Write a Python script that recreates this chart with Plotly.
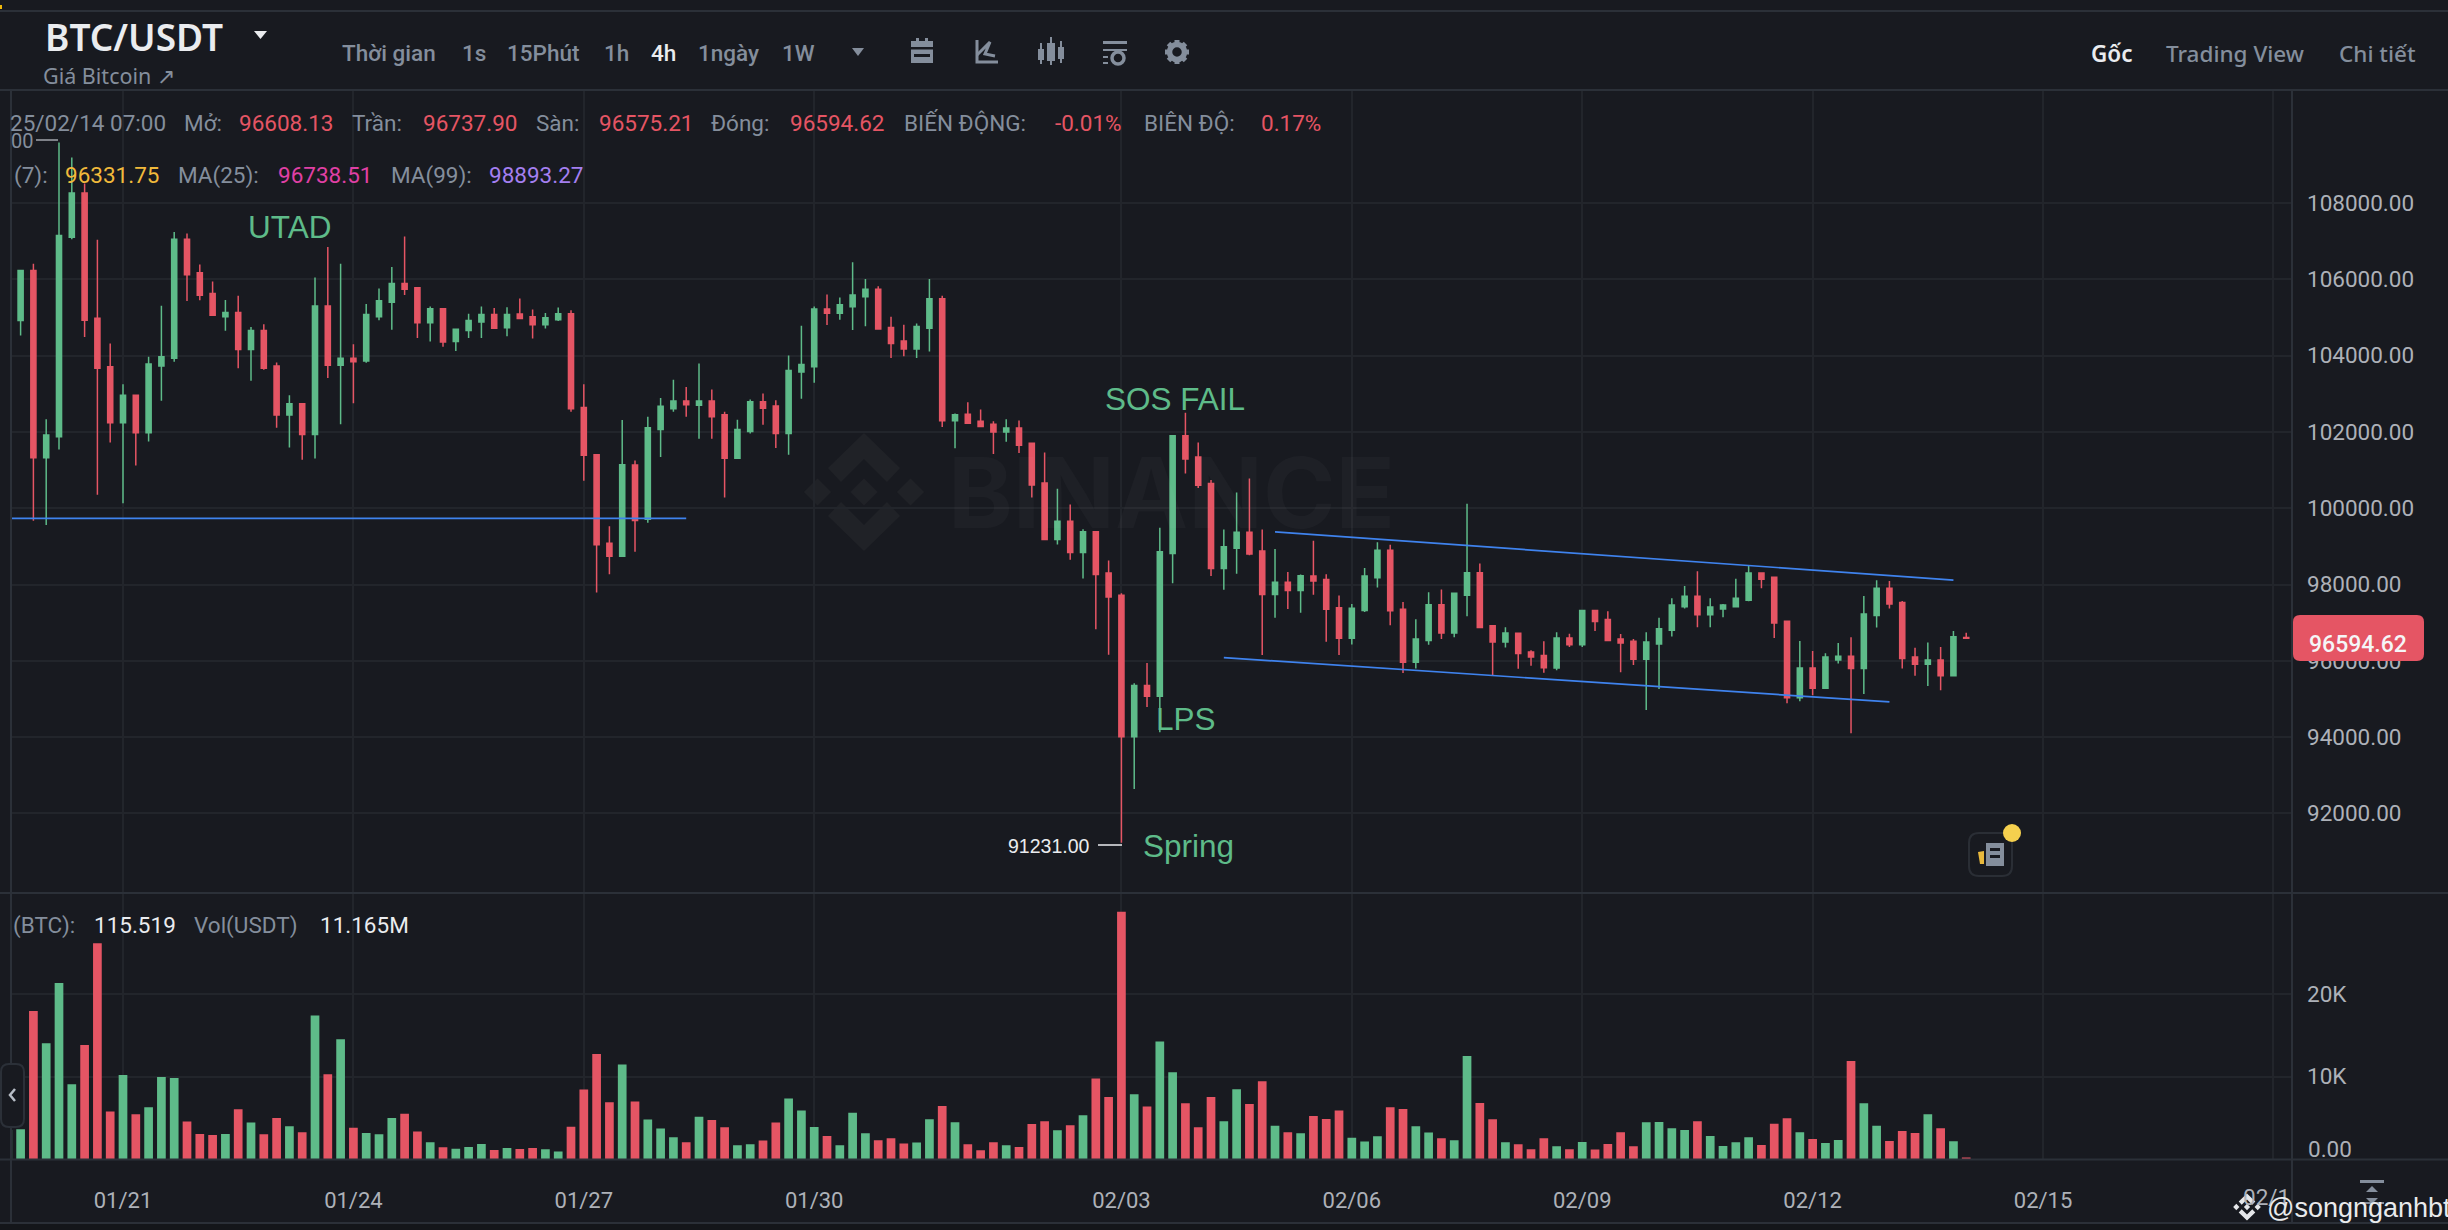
import plotly.graph_objects as go

W, H = 2448, 1230
BG = "#181A20"
GREEN = "#5EBB89"
RED = "#E55564"
GRID = "#22252B"
RULE = "#2B3038"
MUTED = "#848E9C"
AXIS_TEXT = "#ADB1B8"
TEXT_GREEN = "#5EBB89"
FONT = "Roboto"

# 4h BTC/USDT candles, oldest first; the candle index is the x coordinate
candle_index = list(range(154))
open_ = [
    104340, 104920, 106230, 101320, 101870, 107100, 108260, 104980, 103710, 102240, 102960,
    101980, 103730, 103930, 107050, 106170, 105630, 105020, 105130, 104160, 104660, 103730,
    102440, 102740, 101930, 105300, 103750, 103930, 103860, 105020, 105400, 105890, 105780,
    104860, 105230, 104370, 104660, 104880, 105080, 104730, 105090, 105020, 104810, 104940,
    105100, 102640, 101400, 99080, 98740, 101130, 99710, 102060, 102610, 102810, 102700,
    102810, 102450, 101310, 102010, 102790, 102680, 101960, 103570, 103710, 105220, 105110,
    105280, 105540, 105740, 104740, 104380, 104170, 104720, 105490, 102290, 102460, 102280,
    102200, 102000, 102100, 101700, 100660, 99180, 99660, 98840, 99380, 98300, 97720,
    94010, 95350, 95070, 98810, 101900, 101340, 100650, 98420, 98950, 99370, 98880,
    97740, 98060, 97840, 98220, 98130, 97390, 96590, 97320, 98180, 98900, 97350,
    95960, 96530, 97470, 96730, 97720, 98310, 96920, 96490, 96720, 96230, 96140,
    95810, 96600, 96420, 97320, 97080, 96570, 96510, 96040, 96440, 96800, 97420,
    97690, 97210, 97360, 97420, 97590, 98300, 98190, 97040, 95030, 95810, 95280,
    96020, 96120, 95800, 97190, 97900, 97530, 96100, 95910, 96020, 95610, 96608.13,
]
high = [
    105100, 106230, 106410, 102330, 109588, 109190, 108510, 107040, 104320, 103250, 102980,
    103970, 105310, 107240, 107200, 106390, 105940, 105460, 105570, 104750, 104820, 103820,
    102960, 102750, 106050, 106850, 106410, 104300, 105350, 105760, 106320, 107120, 105790,
    105290, 105240, 104700, 105100, 105290, 105250, 105270, 105500, 105210, 105120, 105260,
    105190, 103250, 101420, 99530, 102310, 101250, 102400, 102890, 103370, 103180, 103790,
    103110, 102530, 102320, 102850, 103010, 102830, 104000, 104780, 105290, 105600, 105520,
    106450, 106010, 105820, 105020, 104810, 104840, 106010, 105570, 102480, 102780, 102590,
    102280, 102330, 102300, 101710, 101460, 100510, 100100, 99450, 99390, 98630, 97770,
    95410, 95940, 99490, 101910, 102500, 101720, 100740, 99440, 100410, 100780, 99440,
    98930, 98330, 98260, 99150, 98270, 97710, 97490, 98430, 99110, 99040, 97540,
    97090, 97800, 97870, 97780, 100120, 98550, 96940, 96880, 96730, 96280, 96510,
    96750, 96710, 97330, 97330, 97300, 96700, 96570, 96750, 97130, 97640, 97960,
    98350, 97640, 97490, 98150, 98490, 98320, 98200, 97050, 96520, 96260, 96200,
    96470, 96620, 97700, 98110, 98090, 97570, 96340, 96480, 96360, 96780, 96737.90,
]
low = [
    104200, 104530, 99670, 99560, 101540, 107050, 104490, 100350, 101720, 100130, 101120,
    101750, 102820, 103840, 105430, 105450, 105040, 104650, 103670, 103340, 103630, 102110,
    101590, 101270, 101300, 103410, 102200, 102750, 103810, 104930, 104680, 105590, 104460,
    104370, 104230, 104120, 104460, 104460, 104700, 104510, 104950, 104450, 104710, 104910,
    102530, 100720, 97790, 98270, 98720, 98860, 99620, 101340, 102530, 102400, 101820,
    101820, 100280, 101300, 101960, 102190, 101580, 101400, 102870, 103290, 104800, 104940,
    104670, 104770, 104690, 103940, 103980, 103940, 104110, 102130, 101570, 102210, 102120,
    101420, 101740, 101450, 100280, 99160, 99050, 98650, 98160, 96830, 96160, 91231,
    92640, 94790, 94130, 98030, 100910, 100530, 98220, 97860, 98280, 98770, 96150,
    97130, 97360, 97260, 97730, 96500, 96150, 96430, 97280, 97920, 96930, 95680,
    95800, 96420, 96570, 96620, 97170, 96860, 95620, 96350, 95790, 95870, 95690,
    95750, 96360, 96360, 96780, 96510, 95700, 95890, 94710, 95260, 96640, 97370,
    96880, 96880, 97140, 97410, 97560, 97900, 96600, 94890, 94940, 95100, 95270,
    95930, 94100, 95130, 96870, 97370, 95800, 95610, 95340, 95230, 95600, 96575.21,
]
close = [
    104950, 106230, 101320, 101920, 107150, 108260, 104930, 103670, 102240, 102960, 101980,
    103780, 103970, 107050, 106120, 105580, 105060, 105130, 104160, 104660, 103670, 102440,
    102740, 101930, 105300, 103750, 103930, 103840, 105080, 105440, 105890, 105740, 104860,
    105230, 104360, 104690, 104920, 105080, 104720, 105080, 104970, 104810, 104990, 105100,
    102610, 101390, 99040, 98740, 101140, 99680, 102110, 102670, 102810, 102710, 102810,
    102400, 101310, 102060, 102790, 102620, 101960, 103610, 103770, 105220, 105110, 105330,
    105590, 105740, 104700, 104320, 104170, 104760, 105490, 102290, 102450, 102230, 102140,
    102000, 102100, 101650, 100610, 99180, 99660, 98840, 99380, 98260, 97670, 94010,
    95350, 95070, 98860, 101900, 101290, 100600, 98420, 98990, 99370, 98800, 97740,
    98060, 97840, 98230, 98090, 97350, 96590, 97380, 98220, 98900, 97310, 95960,
    96570, 97470, 96730, 97770, 98310, 96870, 96490, 96730, 96190, 96100, 95820,
    96600, 96420, 97320, 97030, 96530, 96470, 96040, 96490, 96840, 97460, 97690,
    97210, 97410, 97460, 97640, 98300, 98140, 96990, 95030, 95810, 95280, 96100,
    96120, 95800, 97230, 97900, 97490, 96060, 95910, 96020, 95610, 96630, 96594.62,
]
volume = [
    3550, 3630, 17940, 14030, 21330, 9070, 13830, 26130, 5770, 10200, 5440,
    6290, 9960, 9840, 4560, 3060, 2940, 3060, 6050, 4440, 3020, 5000,
    3990, 3270, 17380, 10280, 14520, 3830, 3190, 3020, 5000, 5520, 3350,
    2060, 1450, 1290, 1490, 1850, 1130, 1370, 1250, 1370, 1210, 930,
    3950, 8430, 12740, 6890, 11450, 6980, 4800, 3710, 2660, 2060, 5160,
    4760, 3870, 1690, 1810, 2260, 4440, 7340, 5890, 3910, 2820, 1690,
    5640, 3140, 2300, 2540, 1900, 2020, 4840, 6450, 4480, 1810, 1090,
    2060, 1690, 1490, 4270, 4600, 3510, 4110, 5320, 9760, 7540, 29920,
    7860, 6370, 14230, 10520, 6770, 3870, 7540, 4600, 8470, 6690, 9430,
    4070, 3270, 3140, 5240, 4880, 5890, 2620, 2140, 2780, 6290, 6090,
    3990, 3230, 2540, 2300, 12500, 6810, 4840, 2060, 1810, 1210, 2540,
    1570, 1210, 2100, 1170, 1850, 3270, 1570, 4480, 4520, 3750, 3550,
    4600, 2820, 1610, 2060, 2660, 1730, 4310, 4960, 3270, 2460, 1980,
    2340, 11890, 6770, 4070, 2220, 3430, 3190, 5440, 3750, 2180, 115.519,
]

date_ticks = [9, 27, 45, 63, 87, 105, 123, 141, 159, 177]
date_labels = ["01/21", "01/24", "01/27", "01/30", "02/03", "02/06", "02/09", "02/12", "02/15", ""]
price_ticks = [92000, 94000, 96000, 98000, 100000, 102000, 104000, 106000, 108000]
price_labels = ["92000.00", "94000.00", "96000.00", "98000.00", "100000.00",
                "102000.00", "104000.00", "106000.00", "108000.00"]
volume_ticks = [10000, 20000]
volume_labels = ["10K", "20K"]

# Support line and the falling channel drawn over the candles
support_x = [0.289, 53]
support_y = [99736, 99736]
channel_top_x = [99, 152]
channel_top_y = [99382, 98115]
channel_low_x = [95, 147]
channel_low_y = [96083, 94921]


def px(x):
    return x / W


def py(y):
    return 1 - y / H


shapes = []
annotations = []


def rect(x0, y0, x1, y1, fill, layer="above"):
    shapes.append(dict(type="rect", xref="paper", yref="paper", x0=px(x0), x1=px(x1),
                       y0=py(y0), y1=py(y1), fillcolor=fill, line_width=0, layer=layer))


def line(x0, y0, x1, y1, color=RULE, width=2, layer="above"):
    shapes.append(dict(type="line", xref="paper", yref="paper", x0=px(x0), x1=px(x1),
                       y0=py(y0), y1=py(y1), line=dict(color=color, width=width), layer=layer))


def poly(points, fill=None, stroke=None, width=0, layer="above", closed=True):
    d = "M" + " L".join(f"{px(x):.6f},{py(y):.6f}" for x, y in points) + (" Z" if closed else "")
    shapes.append(dict(type="path", xref="paper", yref="paper", path=d,
                       fillcolor=fill or "rgba(0,0,0,0)",
                       line=dict(color=stroke or "rgba(0,0,0,0)", width=width), layer=layer))


def round_rect(x0, y0, x1, y1, r, fill=None, stroke=None, width=0):
    d = (f"M{px(x0 + r):.6f},{py(y0):.6f} L{px(x1 - r):.6f},{py(y0):.6f} "
         f"Q{px(x1):.6f},{py(y0):.6f} {px(x1):.6f},{py(y0 + r):.6f} "
         f"L{px(x1):.6f},{py(y1 - r):.6f} Q{px(x1):.6f},{py(y1):.6f} {px(x1 - r):.6f},{py(y1):.6f} "
         f"L{px(x0 + r):.6f},{py(y1):.6f} Q{px(x0):.6f},{py(y1):.6f} {px(x0):.6f},{py(y1 - r):.6f} "
         f"L{px(x0):.6f},{py(y0 + r):.6f} Q{px(x0):.6f},{py(y0):.6f} {px(x0 + r):.6f},{py(y0):.6f} Z")
    shapes.append(dict(type="path", xref="paper", yref="paper", path=d,
                       fillcolor=fill or "rgba(0,0,0,0)",
                       line=dict(color=stroke or "rgba(0,0,0,0)", width=width), layer="above"))


def circle(cx, cy, r, fill=None, stroke=None, width=0):
    shapes.append(dict(type="circle", xref="paper", yref="paper", x0=px(cx - r), x1=px(cx + r),
                       y0=py(cy + r), y1=py(cy - r), fillcolor=fill or "rgba(0,0,0,0)",
                       line=dict(color=stroke or "rgba(0,0,0,0)", width=width), layer="above"))


def text(x, y, s, color=MUTED, size=22.5, anchor="left", family=FONT, weight=None):
    font = dict(family=family, size=size, color=color)
    if weight:
        font["weight"] = weight
    annotations.append(dict(xref="paper", yref="paper", x=px(x), y=py(y), text=s, showarrow=False,
                            xanchor=anchor, yanchor="middle", font=font, borderpad=0, borderwidth=0))


def binance_logo(cx, cy, s, color, layer):
    d = 13.6 * s
    for dx in (-46.5 * s, 0, 46.5 * s):
        poly([(cx + dx, cy - d), (cx + dx + d, cy), (cx + dx, cy + d), (cx + dx - d, cy)], fill=color, layer=layer)
    for sign in (-1, 1):
        poly([(cx, cy + sign * 59 * s), (cx + 36 * s, cy + sign * 24 * s), (cx + 23 * s, cy + sign * 10 * s),
              (cx, cy + sign * 33 * s), (cx - 23 * s, cy + sign * 10 * s), (cx - 36 * s, cy + sign * 24 * s)],
             fill=color, layer=layer)


# Faint exchange mark behind the candles
binance_logo(864, 492, 1.0, "#202227", "below")
text(948, 492, "BINANCE", color="rgba(255,255,255,0.028)", size=98, family="Inter", weight=700)

# Panel rules
line(0, 11, W, 11)
line(0, 90, W, 90)
line(0, 893, W, 893)
line(0, 1159.5, W, 1159.5)
line(0, 1223, W, 1223)
line(2292, 90, 2292, 1223)
line(11, 90, 11, 1223)
rect(0, 1224, W, H, "#14161A")
rect(0, 5, 2, 9, "#F0B90B")

# Header
text(45, 36, "BTC/USDT", color="#EAECEF", size=37, family="Noto Sans", weight=600)
poly([(254, 31), (267, 31), (260.5, 39)], fill="#EAECEF")
text(43, 75, "Giá Bitcoin ↗", color=MUTED, size=21.5, family="Noto Sans")
toolbar = [(342, "Thời gian", MUTED), (462, "1s", MUTED), (507, "15Phút", MUTED), (604, "1h", MUTED),
           (651, "4h", "#EAECEF"), (698, "1ngày", MUTED), (782, "1W", MUTED)]
for x, s, c in toolbar:
    text(x, 53, s, color=c, size=22.5, weight=500)
poly([(852, 48), (864, 48), (858, 56)], fill=MUTED)

# Toolbar icons
rect(911, 41, 933, 63, MUTED)
rect(911, 47, 933, 49.5, BG)
rect(914, 54, 930, 57, BG)
rect(916, 38, 919, 43, MUTED)
rect(925, 38, 928, 43, MUTED)
poly([(977, 40), (977, 62), (998, 62)], stroke=MUTED, width=3, closed=False)
poly([(977, 55), (990, 42), (985, 54), (995, 56)], stroke=MUTED, width=3, closed=False)
for cx, top, bot, w_ in [(1041, 49, 60, 6), (1051, 43, 61, 8), (1061, 47, 59, 6)]:
    rect(cx - w_ / 2, top, cx + w_ / 2, bot, MUTED)
    line(cx, top - 6, cx, bot + 4, MUTED, 2)
rect(1103, 41, 1127, 44, MUTED)
rect(1103, 49, 1127, 51, MUTED)
rect(1103, 56, 1108, 58, MUTED)
rect(1103, 62, 1108, 64, MUTED)
circle(1118, 58, 6, stroke=MUTED, width=3.5)
circle(1177, 52, 7.5, stroke=MUTED, width=5.5)
for ax, ay, bx, by in [(-12, 0, 12, 0), (0, -12, 0, 12), (-8.5, -8.5, 8.5, 8.5), (-8.5, 8.5, 8.5, -8.5)]:
    line(1177 + ax, 52 + ay, 1177 + ax * 0.7, 52 + ay * 0.7, MUTED, 5)
    line(1177 + bx, 52 + by, 1177 + bx * 0.7, 52 + by * 0.7, MUTED, 5)

text(2091, 53, "Gốc", color="#EAECEF", size=22.5, family="Noto Sans", weight=600)
text(2166, 53, "Trading View", color=MUTED, size=22.5, family="Noto Sans", weight=500)
text(2339, 53, "Chi tiết", color=MUTED, size=22.5, family="Noto Sans", weight=500)

# Latest candle read-out
row1 = [(10, "25/02/14 07:00", MUTED), (184, "Mở:", MUTED), (239, "96608.13", RED), (352, "Trần:", MUTED),
        (423, "96737.90", RED), (536, "Sàn:", MUTED), (599, "96575.21", RED), (711, "Đóng:", MUTED),
        (790, "96594.62", RED), (904, "BIẾN ĐỘNG:", MUTED), (1055, "-0.01%", RED),
        (1144, "BIÊN ĐỘ:", MUTED), (1261, "0.17%", RED)]
for x, s, c in row1:
    text(x, 123, s, color=c)
row2 = [(14, "(7):", MUTED), (65, "96331.75", "#F0B93B"), (178, "MA(25):", MUTED), (278, "96738.51", "#E040A5"),
        (391, "MA(99):", MUTED), (489, "98893.27", "#A47FF0")]
for x, s, c in row2:
    text(x, 175, s, color=c)
text(11, 141, "00", color=MUTED, size=20)
line(36, 140, 58, 140, "#A0A4AB", 1.5)

# Wyckoff phase labels
for cx, cy, s in [(289, 227, "UTAD"), (1175, 399, "SOS FAIL"), (1186, 719, "LPS"), (1188, 846, "Spring")]:
    text(cx, cy, s, color=TEXT_GREEN, size=31.5, anchor="center", family="Liberation Sans")

# Session low marker
text(1008, 845.5, "91231.00", color="#EAECEF", size=19.5, family="Liberation Sans")
line(1098, 845, 1122, 845, "#EAECEF", 1.5)

# Volume read-out
text(13, 925, "(BTC):", color=MUTED)
text(94, 925, "115.519", color="#EAECEF")
text(194, 925, "Vol(USDT)", color=MUTED)
text(320, 925, "11.165M", color="#EAECEF")

# Last price badge
round_rect(2293, 615, 2424, 661, 7, fill=RED)
text(2358, 644, "96594.62", color="#F5F6F7", size=23, anchor="center", weight=500)
text(2308, 1149, "0.00", color=AXIS_TEXT)

# Clipped date label and side controls
text(2243, 1197, "02/1", color=AXIS_TEXT)
round_rect(1, 1064, 24, 1127, 8, fill=BG, stroke=RULE, width=2)
poly([(15, 1089), (10, 1095), (15, 1101)], stroke="#B7BDC6", width=2.5, closed=False)

# News button
round_rect(1969, 833, 2012, 876, 10, fill=BG, stroke="#2A2E35", width=2)
rect(1986, 843, 2004, 866, MUTED)
rect(1990, 848, 2000, 851, BG)
rect(1990, 855, 2000, 858, BG)
poly([(1978, 852), (1984, 851), (1984, 864), (1980, 864)], fill="#E9B93C")
circle(2012, 833, 9, fill="#F5D04E")

# Scale toggle and credit line
rect(2360, 1180, 2384, 1183, MUTED)
poly([(2372, 1186), (2378, 1192), (2366, 1192)], fill=MUTED)
poly([(2372, 1204), (2378, 1198), (2366, 1198)], fill=MUTED)
rect(2360, 1202, 2384, 1204, MUTED)
binance_logo(2247, 1207, 0.23, "#E5E7EA", "above")
text(2267, 1208, "@songnganhbtc", color="#E9EAEC", size=27, family="Liberation Sans")

fig = go.Figure()
fig.add_trace(go.Candlestick(
    x=candle_index, open=open_, high=high, low=low, close=close,
    increasing=dict(line=dict(color=GREEN, width=1.5), fillcolor=GREEN),
    decreasing=dict(line=dict(color=RED, width=1.5), fillcolor=RED),
    whiskerwidth=0, showlegend=False, xaxis="x", yaxis="y",
))
for xs, ys in [(support_x, support_y), (channel_top_x, channel_top_y), (channel_low_x, channel_low_y)]:
    fig.add_trace(go.Scatter(x=xs, y=ys, mode="lines", line=dict(color="#3F83EE", width=1.7),
                             showlegend=False, hoverinfo="skip", xaxis="x", yaxis="y"))
fig.add_trace(go.Bar(
    x=candle_index, y=volume,
    marker=dict(color=[GREEN if c >= o else RED for o, c in zip(open_, close)], line_width=0),
    showlegend=False, xaxis="x2", yaxis="y2",
))

x_range = [0.289, 178.45]
x_common = dict(range=x_range, tickmode="array", tickvals=date_ticks, showgrid=True, gridcolor=GRID,
                gridwidth=1.5, zeroline=False, showline=False, ticks="")
fig.update_layout(
    width=W, height=H, autosize=False,
    margin=dict(l=0, r=0, t=0, b=0),
    paper_bgcolor=BG, plot_bgcolor=BG,
    boxgap=0.43, bargap=0.32,
    showlegend=False,
    hovermode=False,
    xaxis=dict(domain=[px(11.5), px(2292)], anchor="y", showticklabels=False,
               rangeslider=dict(visible=False), **x_common),
    xaxis2=dict(domain=[px(11.5), px(2292)], anchor="y2", ticktext=date_labels,
                tickfont=dict(family=FONT, size=22, color=AXIS_TEXT), ticklabelstandoff=26, **x_common),
    yaxis=dict(domain=[py(892), py(91)], anchor="x", side="right", range=[89940, 110936],
               tickmode="array", tickvals=price_ticks, ticktext=price_labels,
               tickfont=dict(family=FONT, size=22.5, color=AXIS_TEXT), ticklabelstandoff=14,
               showgrid=True, gridcolor=GRID, gridwidth=1.5, zeroline=False, showline=False, ticks=""),
    yaxis2=dict(domain=[py(1159.3), py(893.5)], anchor="x2", side="right", range=[0, 32140],
                tickmode="array", tickvals=volume_ticks, ticktext=volume_labels,
                tickfont=dict(family=FONT, size=22.5, color=AXIS_TEXT), ticklabelstandoff=14,
                showgrid=True, gridcolor=GRID, gridwidth=1.5, zeroline=False, showline=False, ticks=""),
    shapes=shapes,
    annotations=annotations,
)

fig.write_html("out.html", config={"displayModeBar": False})
